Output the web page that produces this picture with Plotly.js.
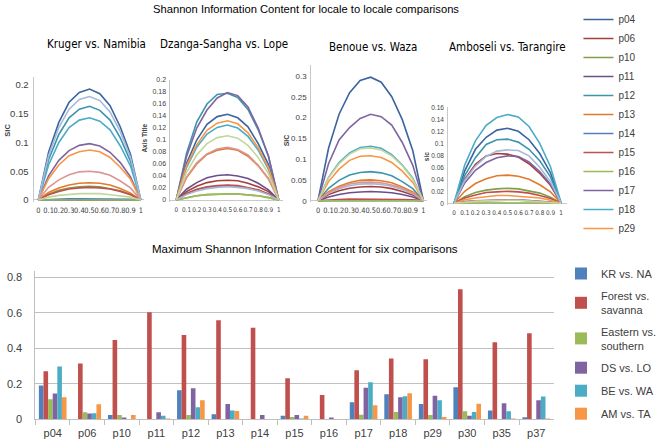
<!DOCTYPE html>
<html><head><meta charset="utf-8">
<script src="https://cdn.plot.ly/plotly-3.0.1.min.js"></script>
<style>body{margin:0;background:#fff}#chart{width:662px;height:444px}</style>
</head><body><div id="chart"></div>
<script>
// ---------- data ----------
const seriesNames = ['p04','p06','p10','p11','p12','p13','p14','p15','p16','p17','p18','p29','p30','p35','p37'];
const xProportion = [0,0.1,0.2,0.3,0.4,0.5,0.6,0.7,0.8,0.9,1];
const xTickText = ['0','0.1','0.2','0.3','0.4','0.5','0.6','0.7','0.8','0.9','1'];

// Kruger vs. Namibia (one row per series, same order as seriesNames)
const krugerSIC = [
 [0,.083,.135,.170,.187,.193,.185,.164,.127,.079,0],
 [0,0,0,0,0,0,0,0,0,0,0],
 [0,.010,.017,.021,.023,.024,.023,.020,.016,.010,0],
 [0,0,.001,.001,.001,.001,.001,.001,.001,0,0],
 [0,.070,.114,.143,.158,.163,.156,.139,.108,.067,0],
 [0,.013,.021,.026,.029,.030,.029,.026,.020,.012,0],
 [0,.001,.001,.002,.002,.002,.002,.002,.001,.001,0],
 [0,.009,.015,.019,.021,.022,.021,.019,.015,.009,0],
 [0,0,0,0,0,0,0,0,0,0,0],
 [0,.042,.069,.086,.095,.098,.094,.083,.065,.040,0],
 [0,.061,.100,.126,.139,.143,.137,.122,.094,.059,0],
 [0,.037,.061,.077,.084,.087,.084,.074,.057,.036,0],
 [0,.077,.126,.158,.175,.180,.173,.153,.119,.074,0],
 [0,.022,.035,.044,.049,.050,.048,.043,.033,.021,0],
 [0,.005,.008,.010,.011,.011,.011,.009,.007,.005,0]
];
// Dzanga-Sangha vs. Lope
const dzangaSIC = [
 [0,.061,.100,.126,.139,.143,.137,.122,.094,.059,0],
 [0,.014,.023,.029,.032,.033,.032,.028,.022,.014,0],
 [0,.004,.007,.009,.010,.010,.010,.009,.007,.004,0],
 [0,.018,.029,.037,.041,.042,.040,.036,.028,.017,0],
 [0,.077,.130,.160,.176,.178,.171,.151,.117,.073,0],
 [0,.037,.060,.076,.083,.086,.083,.073,.057,.035,0],
 [0,.010,.017,.021,.023,.024,.023,.020,.016,.010,0],
 [0,.011,.018,.022,.024,.025,.024,.021,.017,.010,0],
 [0,.004,.007,.009,.010,.010,.010,.009,.007,.004,0],
 [0,.072,.120,.150,.170,.179,.174,.155,.120,.073,0],
 [0,.054,.088,.110,.121,.125,.120,.106,.083,.051,0],
 [0,.057,.092,.116,.128,.132,.127,.112,.087,.054,0],
 [0,.009,.015,.019,.021,.022,.021,.019,.015,.009,0],
 [0,.038,.062,.077,.085,.088,.084,.075,.058,.036,0],
 [0,.046,.075,.094,.104,.107,.103,.091,.071,.044,0]
];
// Benoue vs. Waza
const benoueSIC = [
 [0,.126,.208,.260,.289,.297,.285,.250,.195,.120,0],
 [0,.015,.024,.030,.033,.034,.033,.029,.022,.014,0],
 [0,.001,.001,.002,.002,.002,.002,.002,.001,.001,0],
 [0,.009,.015,.019,.021,.022,.021,.019,.015,.009,0],
 [0,.030,.049,.062,.068,.070,.067,.060,.046,.029,0],
 [0,.022,.035,.044,.049,.050,.048,.043,.033,.021,0],
 [0,0,0,0,0,0,0,0,0,0,0],
 [0,.002,.003,.004,.004,.004,.004,.003,.003,.002,0],
 [0,0,0,0,0,0,0,0,0,0,0],
 [0,.089,.146,.176,.198,.208,.202,.182,.140,.085,0],
 [0,.056,.092,.115,.128,.131,.126,.111,.086,.054,0],
 [0,.046,.076,.097,.107,.108,.104,.092,.071,.044,0],
 [0,.018,.029,.036,.040,.041,.039,.035,.027,.017,0],
 [0,.019,.032,.040,.044,.045,.043,.038,.030,.018,0],
 [0,.055,.089,.112,.125,.127,.122,.108,.084,.052,0]
];
// Amboseli vs. Tarangire
const amboseliSIC = [
 [0,.054,.090,.110,.122,.125,.120,.106,.083,.051,0],
 [0,.040,.065,.079,.083,.082,.077,.066,.050,.030,0],
 [0,.011,.018,.022,.024,.025,.024,.021,.017,.010,0],
 [0,.003,.004,.005,.006,.006,.006,.005,.004,.002,0],
 [0,.046,.076,.098,.106,.107,.102,.090,.071,.044,0],
 [0,.020,.033,.041,.046,.047,.045,.040,.031,.019,0],
 [0,0,0,0,0,0,0,0,0,0,0],
 [0,.009,.014,.018,.019,.020,.019,.017,.013,.008,0],
 [0,0,0,0,0,0,0,0,0,0,0],
 [0,.034,.055,.068,.076,.079,.078,.069,.053,.032,0],
 [0,.064,.104,.130,.143,.148,.144,.128,.100,.061,0],
 [0,.006,.009,.011,.013,.013,.012,.011,.009,.005,0],
 [0,.038,.062,.078,.087,.089,.088,.079,.060,.036,0],
 [0,.002,.004,.004,.005,.005,.005,.004,.003,.002,0],
 [0,.002,.003,.004,.005,.005,.005,.004,.003,.002,0]
];

// Maximum SIC for six comparisons
const barCategories = ['p04','p06','p10','p11','p12','p13','p14','p15','p16','p17','p18','p29','p30','p35','p37'];
const barComparisons = ['KR vs. NA','Forest vs.<br>savanna','Eastern vs.<br>southern','DS vs. LO','BE vs. WA','AM vs. TA'];
const maxKRNA    = [.190,0,.024,0,.163,.028,.002,.020,0,.096,.141,.086,.180,.049,.011];
const maxForest  = [.270,.314,.447,.603,.475,.558,.516,.231,.137,.276,.342,.338,.732,.434,.485];
const maxEastern = [.113,.040,.024,0,.024,0,0,.013,0,.026,.041,.024,.045,0,0];
const maxDSLO    = [.145,.032,.010,.040,.175,.086,.024,.024,.010,.177,.124,.133,.020,.090,.107];
const maxBEWA    = [.297,.034,.002,.020,.068,.049,0,.005,0,.208,.130,.107,.041,.045,.128];
const maxAMTA    = [.124,.085,.024,.005,.107,.047,0,.020,0,.079,.147,.013,.088,.005,.005];

// ---------- styles ----------
const lineColors = ['#3B64A0','#A33F3C','#7FA046','#6A4F8C','#3B95AD','#E07B2C','#4F81BD','#C0504D','#9BBB59','#8064A2','#4BACC6','#F79646','#A7B9D9','#D99694','#C3D69B'];
const barColors = ['#4F81BD','#C0504D','#9BBB59','#8064A2','#4BACC6','#F79646'];
const FONT = 'Liberation Sans, Arial, sans-serif';
const NARROW = 'Liberation Sans Narrow, DejaVu Sans Condensed, Liberation Sans, sans-serif';
const W = 662, H = 444;
const px = p => p / W;
const py = p => 1 - p / H;

const panels = [
  {data: krugerSIC, ax: ''},
  {data: dzangaSIC, ax: '2'},
  {data: benoueSIC, ax: '3'},
  {data: amboseliSIC, ax: '4'}
];
const traces = [];
panels.forEach((pn, i) => {
  pn.data.forEach((row, j) => {
    traces.push({
      x: xProportion, y: row, type: 'scatter', mode: 'lines',
      xaxis: 'x' + pn.ax, yaxis: 'y' + pn.ax,
      name: seriesNames[j], legendgroup: seriesNames[j],
      showlegend: i === 0 && j < 12, legend: 'legend',
      line: {color: lineColors[j], width: 1.6},
      hoverinfo: 'skip'
    });
  });
});
const barSeries = [maxKRNA, maxForest, maxEastern, maxDSLO, maxBEWA, maxAMTA];
barSeries.forEach((vals, k) => {
  traces.push({
    x: barCategories, y: vals, type: 'bar', name: barComparisons[k],
    xaxis: 'x5', yaxis: 'y5', legend: 'legend2', legendgroup: 'b' + k,
    marker: {color: barColors[k], line: {width: 0}}
  });
});

function lineX(dom, range, fs) {
  return {domain: [px(dom[0]), px(dom[1])], range: range, type: 'linear',
    tickvals: xProportion, ticktext: xTickText, tickangle: 0,
    tickfont: {size: fs, color: '#404040', family: NARROW},
    showgrid: false, zeroline: false, showline: false, ticks: '', ticklabelstandoff: 3};
}
function lineY(dom, range, tv, fs) {
  return {domain: [py(dom[1]), py(dom[0])], range: range,
    tickvals: tv, ticktext: tv.map(v => String(v)),
    tickfont: {size: fs, color: '#404040', family: FONT},
    showgrid: false, zeroline: true, zerolinecolor: '#c8c8c8', zerolinewidth: 1,
    showline: true, linecolor: '#c8c8c8', linewidth: 1, ticks: '', ticklabelstandoff: 2};
}

const layout = {
  width: W, height: H, margin: {l: 0, r: 0, t: 0, b: 0},
  paper_bgcolor: '#fff', plot_bgcolor: 'rgba(0,0,0,0)',
  font: {family: FONT, color: '#404040'},
  barmode: 'group', bargap: 0.2, bargroupgap: 0,
  xaxis: Object.assign(lineX([35, 150], [-0.047, 1.028], 7.4), {anchor: 'y'}),
  yaxis: Object.assign(lineY([77, 202], [-0.0035, 0.214], [0, 0.05, 0.1, 0.15, 0.2], 9.5), {anchor: 'x'}),
  xaxis2: Object.assign(lineX([178, 295], [-0.056, 1.037], 6.4), {anchor: 'y2'}),
  yaxis2: Object.assign(lineY([80, 202], [-0.0033, 0.2], [0, 0.02, 0.04, 0.06, 0.08, 0.1, 0.12, 0.14, 0.16, 0.18, 0.2], 7), {anchor: 'x2'}),
  xaxis3: Object.assign(lineX([325, 446], [-0.064, 1.036], 7.4), {anchor: 'y3'}),
  yaxis3: Object.assign(lineY([65, 202], [-0.0031, 0.3264], [0, 0.05, 0.1, 0.15, 0.2, 0.25, 0.3], 8), {anchor: 'x3'}),
  xaxis4: Object.assign(lineX([468, 592], [-0.054, 1.054], 6.4), {anchor: 'y4'}),
  yaxis4: Object.assign(lineY([107, 205], [-0.0028, 0.1605], [0, 0.02, 0.04, 0.06, 0.08, 0.1, 0.12, 0.14, 0.16], 6.5), {anchor: 'x4'}),
  xaxis5: {domain: [px(37), px(578)], type: 'category', anchor: 'y5',
    showline: true, linecolor: '#bfbfbf', ticks: 'outside', tickson: 'boundaries',
    ticklen: 5, tickcolor: '#bfbfbf', tickfont: {size: 11, color: '#404040', family: FONT},
    showgrid: false, ticklabelstandoff: 3},
  yaxis5: {domain: [py(419.3), py(271)], range: [0, 0.835], anchor: 'x5',
    tickvals: [0, 0.2, 0.4, 0.6, 0.8], ticktext: ['0', '0.2', '0.4', '0.6', '0.8'],
    tickfont: {size: 11, color: '#404040', family: FONT},
    showgrid: true, gridcolor: '#c0c0c0', zeroline: false,
    showline: true, linecolor: '#bfbfbf', ticks: '', ticklabelstandoff: 10},
  legend: {x: px(604), y: py(5), xanchor: 'left', yanchor: 'top',
    font: {size: 10, color: '#404040', family: FONT}, bgcolor: 'rgba(0,0,0,0)',
    tracegroupgap: 0, itemwidth: 30, traceorder: 'normal'},
  legend2: {x: px(586), y: py(259), xanchor: 'left', yanchor: 'top',
    font: {size: 11, color: '#404040', family: FONT}, bgcolor: 'rgba(0,0,0,0)',
    tracegroupgap: 4, traceorder: 'grouped'},
  annotations: [
    {text: 'Shannon Information Content for locale to locale comparisons', x: px(319), y: py(9), font: {size: 11.2, color: '#000'}},
    {text: 'Kruger vs. Namibia', x: px(101), y: py(44), font: {size: 11.5, color: '#000', family: NARROW}},
    {text: 'Dzanga-Sangha vs. Lope', x: px(234), y: py(44), font: {size: 11.5, color: '#000', family: NARROW}},
    {text: 'Benoue vs. Waza', x: px(389), y: py(47), font: {size: 11.5, color: '#000', family: NARROW}},
    {text: 'Amboseli vs. Tarangire', x: px(530), y: py(47), font: {size: 11.5, color: '#000', family: NARROW}},
    {text: 'Maximum Shannon Information Content for six comparisons', x: px(318), y: py(249), font: {size: 11.5, color: '#000'}},
    {text: '<b>SIC</b>', x: px(7), y: py(130), textangle: -90, font: {size: 7.5, color: '#404040'}},
    {text: '<b>Axis Title</b>', x: px(151), y: py(138), textangle: -90, font: {size: 6.5, color: '#404040'}},
    {text: '<b>SIC</b>', x: px(299), y: py(140), textangle: -90, font: {size: 7, color: '#404040'}},
    {text: '<b>sic</b>', x: px(445), y: py(157), textangle: -90, font: {size: 6.5, color: '#404040'}}
  ].map(a => Object.assign({xref: 'paper', yref: 'paper', showarrow: false, xanchor: 'center', yanchor: 'middle'}, a))
};

Plotly.newPlot('chart', traces, layout, {displayModeBar: false, staticPlot: true});
</script>
</body></html>
